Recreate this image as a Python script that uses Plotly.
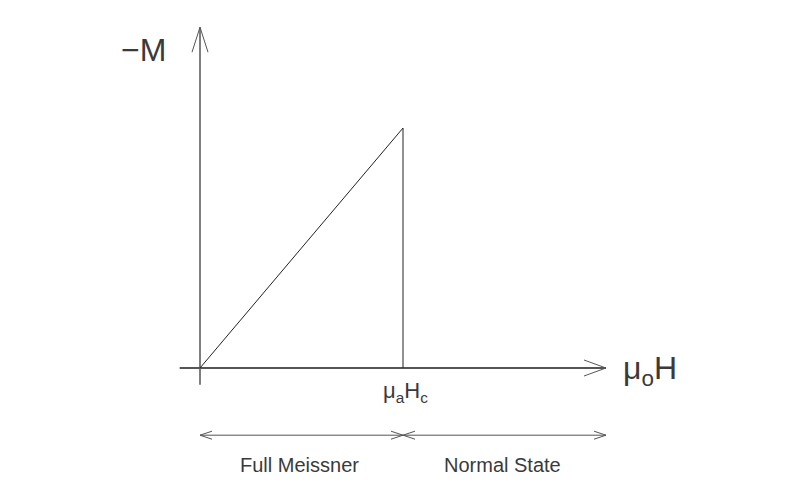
import plotly.graph_objects as go

# Magnetisation curve of a type-I superconductor (arbitrary units, Hc = 1)
field_h = [0.0, 1.0, 1.0]
moment_m = [0.0, 1.0, 0.0]
hc_label = "μ<sub>a</sub>H<sub>c</sub>"
x_label = "μ<sub>o</sub>H"
y_label = "−M"
regions = ["Full Meissner", "Normal State"]
region_edges = [0.0, 1.0, 2.0]

# pixel scale of the original drawing (px per unit)
SX, SY = 203.0, 240.0
# page body margin pushes the plot div 8px right/down
OX, OY = 200 - 8, 368 - 8
INK = "#555555"
TXT = "#3a3a3a"
FONT = "Liberation Sans"

fig = go.Figure()


def seg(x0, y0, x1, y1, width=1, color=INK):
    fig.add_trace(go.Scatter(x=[x0, x1], y=[y0, y1], mode="lines",
                             line=dict(color=color, width=width),
                             hoverinfo="skip", showlegend=False))


def open_head(x, y, dx, dy, length, half):
    # open "V" arrowhead, sized in pixels, pointing along (dx, dy)
    px, py = -dy, dx
    bx, by = x - dx * length / SX, y - dy * length / SY
    seg(x, y, bx + px * half / SX, by + py * half / SY)
    seg(x, y, bx - px * half / SX, by - py * half / SY)


# axes
seg(-0.1, 0.0, 2.0, 0.0, width=2)
open_head(2.0, 0.0, 1, 0, 22, 8)
seg(0.0, -0.07, 0.0, 1.42, width=1.5)
open_head(0.0, 1.42, 0, 1, 25, 8)

# the curve
fig.add_trace(go.Scatter(x=field_h, y=moment_m, mode="lines",
                         line=dict(color="#222222", width=1),
                         hoverinfo="skip", showlegend=False))

# region arrows
ya = -0.28
for a, b in zip(region_edges[:-1], region_edges[1:]):
    seg(a, ya, b, ya)
    open_head(a, ya, -1, 0, 12, 4)
    open_head(b, ya, 1, 0, 12, 4)

fig.add_annotation(x=-0.158, y=1.325, text=y_label, showarrow=False,
                   xanchor="right", font=dict(family=FONT, size=32, color=TXT))
fig.add_annotation(x=2.075, y=-0.01, text=x_label, showarrow=False,
                   xanchor="left", font=dict(family=FONT, size=32, color=TXT))
fig.add_annotation(x=1.01, y=-0.1, text=hc_label, showarrow=False,
                   font=dict(family=FONT, size=22, color=TXT))
for a, b, name in zip(region_edges[:-1], region_edges[1:], regions):
    fig.add_annotation(x=(a + b) / 2 - 0.01, y=-0.404, text=name,
                       showarrow=False,
                       font=dict(family=FONT, size=20, color=TXT))

fig.update_layout(
    width=800, height=500,
    margin=dict(l=0, r=0, t=0, b=0),
    paper_bgcolor="white", plot_bgcolor="white",
    xaxis=dict(range=[-OX / SX, (800 - OX) / SX], visible=False,
               fixedrange=True),
    yaxis=dict(range=[-(500 - OY) / SY, OY / SY], visible=False,
               fixedrange=True),
    showlegend=False,
)

fig.write_html("out.html")
